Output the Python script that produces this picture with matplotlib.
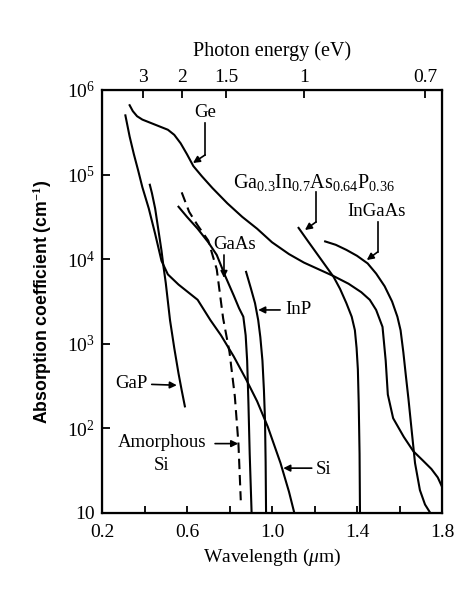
import numpy as np
import matplotlib
matplotlib.use("Agg")
import matplotlib.pyplot as plt
from matplotlib.ticker import NullLocator

plt.rcParams['font.family'] = ['Liberation Serif', 'DejaVu Serif']
plt.rcParams['mathtext.fontset'] = 'custom'
plt.rcParams['mathtext.rm'] = 'Liberation Serif'
plt.rcParams['mathtext.it'] = 'Liberation Serif:italic'
plt.rcParams['mathtext.bf'] = 'Liberation Serif:bold'

# curves: wavelength (um) and log10 of absorption coefficient (cm^-1)
ge_lam = [0.33, 0.345, 0.365, 0.39, 0.43, 0.47, 0.51, 0.54, 0.57, 0.60, 0.63, 0.67, 0.72, 0.79, 0.86,
          0.93, 1.00, 1.08, 1.15, 1.22, 1.29, 1.36, 1.42, 1.46, 1.49, 1.52, 1.535, 1.545, 1.57, 1.62,
          1.665, 1.71, 1.75, 1.78, 1.80]
ge_log = [5.82, 5.75, 5.69, 5.65, 5.61, 5.57, 5.53, 5.47, 5.37, 5.24, 5.10, 4.98, 4.84, 4.66, 4.50,
          4.36, 4.20, 4.06, 3.96, 3.88, 3.80, 3.71, 3.61, 3.52, 3.40, 3.20, 2.80, 2.40, 2.12, 1.90,
          1.73, 1.62, 1.52, 1.42, 1.31]

si_lam = [0.31, 0.33, 0.35, 0.37, 0.39, 0.42, 0.45, 0.48, 0.51, 0.56, 0.60, 0.65, 0.71, 0.76, 0.82,
          0.88, 0.93, 0.98, 1.04, 1.08, 1.105]
si_log = [5.70, 5.45, 5.24, 5.05, 4.85, 4.60, 4.30, 3.98, 3.82, 3.70, 3.62, 3.52, 3.28, 3.10, 2.85,
          2.57, 2.32, 2.02, 1.59, 1.25, 1.0]

gap_lam = [0.425, 0.435, 0.45, 0.465, 0.48, 0.49, 0.50, 0.52, 0.54, 0.56, 0.575, 0.59]
gap_log = [4.88, 4.78, 4.60, 4.35, 4.10, 3.90, 3.72, 3.28, 2.95, 2.65, 2.45, 2.26]

gaas_lam = [0.56, 0.60, 0.65, 0.70, 0.74, 0.78, 0.82, 0.845, 0.865, 0.876, 0.883, 0.889, 0.895, 0.904]
gaas_log = [4.62, 4.50, 4.36, 4.20, 4.05, 3.80, 3.57, 3.42, 3.32, 3.10, 2.80, 2.30, 1.70, 1.0]

asi_lam = [0.575, 0.61, 0.65, 0.70, 0.74, 0.77, 0.80, 0.825, 0.842, 0.853]
asi_log = [4.79, 4.56, 4.40, 4.22, 3.88, 3.30, 2.90, 2.38, 1.82, 1.15]

inp_lam = [0.878, 0.90, 0.92, 0.935, 0.945, 0.955, 0.962, 0.967, 0.970, 0.972]
inp_log = [3.85, 3.66, 3.48, 3.28, 3.08, 2.80, 2.45, 2.10, 1.60, 1.0]

quat_lam = [1.125, 1.17, 1.21, 1.25, 1.29, 1.32, 1.35, 1.375, 1.39, 1.398, 1.404, 1.408, 1.412, 1.414]
quat_log = [4.37, 4.21, 4.07, 3.93, 3.79, 3.65, 3.48, 3.32, 3.16, 2.95, 2.70, 2.30, 1.70, 1.0]

ingaas_lam = [1.25, 1.30, 1.35, 1.40, 1.45, 1.49, 1.53, 1.565, 1.59, 1.605, 1.618, 1.63, 1.642, 1.657,
              1.673, 1.696, 1.72, 1.745]
ingaas_log = [4.21, 4.17, 4.11, 4.04, 3.95, 3.83, 3.68, 3.50, 3.32, 3.16, 2.90, 2.62, 2.35, 1.98,
              1.59, 1.27, 1.10, 1.0]

solid_curves = [(ge_lam, ge_log), (si_lam, si_log), (gap_lam, gap_log), (gaas_lam, gaas_log),
                (inp_lam, inp_log), (quat_lam, quat_log), (ingaas_lam, ingaas_log)]

# axis ticks
x_ticks = [0.2, 0.4, 0.6, 0.8, 1.0, 1.2, 1.4, 1.6, 1.8]
x_ticklabels = ['0.2', '', '0.6', '', '1.0', '', '1.4', '', '1.8']
y_ticks = [1e1, 1e2, 1e3, 1e4, 1e5, 1e6]
y_ticklabels = ['10', r'$10^2$', r'$10^3$', r'$10^4$', r'$10^5$', r'$10^6$']
# photon energy ticks, placed where they sit on the original top axis
top_pos = [0.393, 0.576, 0.783, 1.15, 1.72]
top_labels = ['3', '2', '1.5', '1', '0.7']

# labels: text, (lam, log) of text centre, font size
labels = [
    ('Ge', (0.685, 5.73), 13.5),
    (r'Ga$_{0.3}$In$_{0.7}$As$_{0.64}$P$_{0.36}$', (1.20, 4.91), 14.5),
    ('InGaAs', (1.494, 4.56), 13.5),
    ('GaAs', (0.826, 4.17), 13.5),
    ('InP', (1.124, 3.40), 13.5),
    ('GaP', (0.34, 2.53), 13.5),
    ('Amorphous', (0.481, 1.83), 13.5),
    ('Si', (0.481, 1.567), 13.5),
    ('Si', (1.241, 1.517), 13.5),
]
# pointers: stem start, corner (or None), tip  (lam, log)
pointers = [
    ((0.685, 5.61), (0.685, 5.232), (0.628, 5.137)),
    ((1.207, 4.794), (1.207, 4.44), (1.155, 4.345)),
    ((1.497, 4.44), (1.497, 4.085), (1.446, 3.99)),
    ((0.774, 4.05), None, (0.774, 3.778)),
    ((1.038, 3.40), None, (0.935, 3.40)),
    ((0.434, 2.52), None, (0.552, 2.51)),
    ((0.732, 1.82), None, (0.841, 1.82)),
    ((1.187, 1.53), None, (1.053, 1.53)),
]

fig = plt.figure(figsize=(4.76, 5.96), dpi=100)
ax = fig.add_axes([0.2143, 0.1393, 0.7143, 0.7097])

for lam, lg in solid_curves:
    ax.plot(lam, 10 ** np.array(lg), color='black', lw=1.5)
ax.plot(asi_lam, 10 ** np.array(asi_log), color='black', lw=1.5, dashes=(5, 2.8))

ax.set_yscale('log')
ax.set_xlim(0.2, 1.8)
ax.set_ylim(10, 1e6)
ax.set_xticks(x_ticks)
ax.set_xticklabels(x_ticklabels)
ax.set_yticks(y_ticks)
ax.set_yticklabels(y_ticklabels)
ax.yaxis.set_minor_locator(NullLocator())
ax.tick_params(axis='x', direction='in', length=5, width=1.3, labelsize=14, pad=8)
ax.tick_params(axis='y', direction='in', length=6, width=1.3, labelsize=14, pad=5)
for sp in ax.spines.values():
    sp.set_linewidth(1.6)

ax.set_xlabel(r'Wavelength ($\mu$m)', fontsize=14, labelpad=4)
ax.set_ylabel(r'Absorption coefficient (cm$^{\mathbf{-1}}$)', family='Liberation Sans',
              weight='bold', fontsize=12.7, labelpad=9)

ax2 = ax.twiny()
ax2.set_xlim(0.2, 1.8)
ax2.set_xticks(top_pos)
ax2.set_xticklabels(top_labels)
ax2.tick_params(axis='x', direction='in', length=6, width=1.3, labelsize=14, pad=3)
ax2.set_xlabel('Photon energy (eV)', fontsize=14.5, labelpad=9)

for txt, (lx, ly), fs in labels:
    ax.text(lx, 10 ** ly, txt, fontsize=fs, ha='center', va='center')

for start, corner, tip in pointers:
    if corner is not None:
        ax.plot([start[0], corner[0]], [10 ** start[1], 10 ** corner[1]], color='black', lw=1.2)
        start = corner
    ax.annotate('', xy=(tip[0], 10 ** tip[1]), xytext=(start[0], 10 ** start[1]),
                arrowprops=dict(arrowstyle='-|>', color='black', lw=1.2,
                                mutation_scale=10, shrinkA=0, shrinkB=0))

fig.savefig('out.png', dpi=100)
